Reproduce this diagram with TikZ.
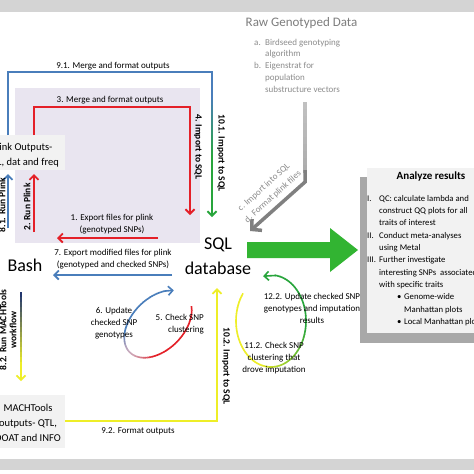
\documentclass[tikz,border=0pt]{standalone}
\usepackage{fontspec}
\setmainfont{Carlito}
\usetikzlibrary{arrows.meta}
\definecolor{redc}{RGB}{228,32,40}
\definecolor{blu}{RGB}{74,126,187}
\definecolor{navy}{RGB}{35,55,110}
\definecolor{grn}{RGB}{40,165,60}
\definecolor{yel}{RGB}{238,238,40}
\definecolor{bigg}{RGB}{50,180,50}
\definecolor{bandc}{RGB}{212,212,212}
\definecolor{lav}{RGB}{233,229,240}
\definecolor{boxg}{RGB}{242,242,242}
\definecolor{shad}{RGB}{168,168,168}
\definecolor{txtg}{RGB}{125,125,125}
\definecolor{txtg2}{RGB}{140,140,140}
\begin{document}
\begin{tikzpicture}[x=1pt,y=-1pt,
  lw/.style={line width=1.8pt},
  tip/.style={-{Straight Barb[length=4.5pt,width=9pt]}},
  lbl/.style={font=\fontsize{9}{12}\selectfont, align=center, inner sep=0pt},
  vlbl/.style={font=\bfseries\fontsize{9.5}{10}\selectfont, align=center, inner sep=0pt},
  big/.style={font=\fontsize{18}{25}\selectfont, align=center, inner sep=0pt},
  boxtxt/.style={font=\fontsize{10.5}{15.5}\selectfont, align=center, inner sep=0pt},
  item/.style={font=\fontsize{8.7}{10}\selectfont, anchor=base west, inner sep=0pt},
  rawitem/.style={font=\fontsize{9}{10}\selectfont, anchor=base west, inner sep=0pt, text=txtg2},
]
\useasboundingbox (0,0) rectangle (474,474);
\fill[white] (0,0) rectangle (474,474);
\fill[bandc] (0,459) rectangle (474,470);
\fill[lav] (15,88) rectangle (200,243);

% boxes and main nodes
\node[fill=boxg, minimum width=70pt, minimum height=35pt, inner sep=0pt] (plink) at (30,152.5) {};
\node[boxtxt] (plinktxt) at (22,155) {Plink Outputs-\\QTL, dat and freq};
\node[fill=boxg, minimum width=70pt, minimum height=53pt, inner sep=0pt] (mach) at (30,421.5) {};
\node[boxtxt, font=\fontsize{10.5}{15}\selectfont] (machtxt) at (28,423) {MACHTools\\outputs- QTL,\\DOAT and INFO};
\node[big] (bash) at (25,265) {Bash};
\node[big] (sql) at (218,256) {SQL\\database};

% Raw genotyped data
\node[font=\fontsize{13}{15}\selectfont, text=txtg, inner sep=0pt] (raw) at (301.5,23) {Raw Genotyped Data};
\node[rawitem] (ra) at (254,45) {a.};
\node[rawitem] (ra1) at (265,45) {Birdseed genotyping};
\node[rawitem] (ra2) at (265,56) {algorithm};
\node[rawitem] (rb) at (254,68) {b.};
\node[rawitem] (rb1) at (265,68) {Eigenstrat for};
\node[rawitem] (rb2) at (265,80) {population};
\node[rawitem] (rb3) at (265,92) {substructure vectors};

% gray arrow
\coordinate (g0) at (305,102);
\coordinate (g1) at (305,182);
\coordinate (g2) at (250,231);
\foreach \i in {0,...,9}{
  \pgfmathsetmacro\ya{102+7*\i}
  \pgfmathsetmacro\yb{\ya+7.5}
  \pgfmathsetmacro\pc{100-4*\i}
  \draw[line width=3.5pt, color=black!55!white!\pc!black!45!white] (305,\ya) -- (305,\yb);
}
\draw[line width=3.5pt, color=black!50!white, -{Straight Barb[length=7pt,width=15pt]}] (305,170) -- (g1) -- (g2);
\node[font=\fontsize{9}{10}\selectfont, text=txtg2, rotate=42, inner sep=0pt] (lc) at (264,187.5) {c. Import into SQL};
\node[font=\fontsize{9}{10}\selectfont, text=txtg2, rotate=42, inner sep=0pt] (ld) at (273,197) {d. Format plink files};

% big green arrow
\fill[bigg] (247,242) -- (330,242) -- (330,228) -- (358,250) -- (330,272) -- (330,258) -- (247,258) -- cycle;

% analyze results box
\fill[shad] (360,177) rectangle (480,343);
\node[fill=boxg, minimum width=113pt, minimum height=165pt, inner sep=0pt] (analyze) at (423.5,250.5) {};
\node[font=\bfseries\fontsize{11}{13}\selectfont, inner sep=0pt] (antitle) at (431,177) {Analyze results};
\node[item] (i1) at (367,201) {I.};
\node[item] (i1a) at (379,201) {QC: calculate lambda and};
\node[item] (i1b) at (379,213.5) {construct QQ plots for all};
\node[item] (i1c) at (379,225.5) {traits of interest};
\node[item] (i2) at (367,238) {II.};
\node[item] (i2a) at (379,238) {Conduct meta-analyses};
\node[item] (i2b) at (379,250) {using Metal};
\node[item] (i3) at (367,262.5) {III.};
\node[item] (i3a) at (379,262.5) {Further investigate};
\node[item] (i3b) at (379,275) {interesting SNPs\ \ associated};
\node[item] (i3c) at (379,287) {with specific traits};
\node[item] (b1) at (397,299.5) {•};
\node[item] (b1a) at (404,299.5) {Genome-wide};
\node[item] (b1b) at (404,312) {Manhattan plots};
\node[item] (b2) at (397,324.5) {•};
\node[item] (b2a) at (404,324.5) {Local Manhattan plots};

% 9.1 / 10.1 (blue to green)
\coordinate (p91) at (8,135);
\coordinate (q91) at (8,72);
\coordinate (r91) at (212,72);
\coordinate (s91) at (212,95);
\coordinate (t91) at (212,160);
\coordinate (u91) at (212,217);
\draw[blu, lw] (p91) -- (q91) -- (r91) -- (s91);
\foreach \i in {0,...,12}{
  \pgfmathsetmacro\ya{95+5*\i}
  \pgfmathsetmacro\yb{\ya+5.5}
  \pgfmathsetmacro\pc{100*\i/12}
  \draw[lw, color=grn!\pc!blu] (212,\ya) -- (212,\yb);
}
\draw[grn, lw, tip] (t91) -- (u91);

% 3 / 4 (red)
\coordinate (p3) at (34,135);
\coordinate (q3) at (34,107);
\coordinate (r3) at (190,107);
\coordinate (s3) at (190,215);
\draw[redc, lw, tip] (p3) -- (q3) -- (r3) -- (s3);

% 1, 7
\coordinate (e1a) at (158,238);
\coordinate (e1b) at (57,238);
\draw[redc, lw, tip] (e1a) -- (e1b);
\coordinate (e7a) at (172,275);
\coordinate (e7b) at (53,275);
\draw[blu, lw, tip] (e7a) -- (e7b);

% 2, 8.1
\coordinate (r2a) at (34,232);
\coordinate (r2b) at (34,174);
\draw[redc, lw, tip] (r2a) -- (r2b);
\coordinate (r81a) at (8,228);
\coordinate (r81b) at (8,174);
\draw[blu, lw, tip] (r81a) -- (r81b);

% 8.2 navy to yellow
\foreach \i in {0,...,14}{
  \pgfmathsetmacro\ya{292+5*\i}
  \pgfmathsetmacro\yb{\ya+5.5}
  \pgfmathsetmacro\pc{100*\i/14}
  \draw[line width=1.6pt, color=yel!\pc!navy] (21,\ya) -- (21,\yb);
}
\coordinate (m82a) at (21,365);
\coordinate (m82b) at (21,381);
\draw[yel, line width=1.6pt, tip] (m82a) -- (m82b);

% 9.2 / 10.2 yellow
\coordinate (y1) at (65,421);
\coordinate (y2) at (217,421);
\coordinate (y3) at (217,288);
\draw[yel, lw, tip] (y1) -- (y2) -- (y3);

% cycle 5 / 6 (red to blue)
\begin{scope}[shift={(158,324)}, rotate=45]
  \foreach \t in {25,29,...,313}{
    \pgfmathsetmacro\tb{\t+4.5}
    \pgfmathsetmacro\pc{min(max((\t-130)/0.9,0),100)}
    \pgfmathsetmacro\wc{100-50*sin(1.8*\pc)}
    \draw[line width=1.6pt, color=blu!\pc!redc!\wc!white] (\t:40 and 26) -- (\tb:40 and 26);
  }
  \draw[line width=1.6pt, blu, tip] (315:40 and 26) -- (331:40 and 26);
\end{scope}

% cycle 11.2 / 12.2 (yellow to green)
\begin{scope}[shift={(271,321)}]
  \foreach \t in {217,213,...,-79}{
    \pgfmathsetmacro\tb{\t-4.5}
    \pgfmathsetmacro\pc{min(max(110-\t,0),100)}
    \draw[line width=1.6pt, color=grn!\pc!yel] (\t:35 and 46) -- (\tb:35 and 46);
  }
  \draw[grn, line width=1.6pt, tip] (-82:35 and 46) -- (-103:35 and 46);
\end{scope}

% labels
\node[lbl] (l91) at (113,66) {9.1. Merge and format outputs};
\node[lbl] (l3) at (110,100) {3. Merge and format outputs};
\node[lbl] (l1) at (112,224) {1. Export files for plink\\(genotyped SNPs)};
\node[lbl] (l7) at (113,259.5) {7. Export modified files for plink\\(genotyped and checked SNPs)};
\node[lbl] (l92) at (138,431) {9.2. Format outputs};
\node[lbl] (l6) at (114,323.5) {6. Update\\checked SNP\\genotypes};
\node[lbl, align=right, anchor=east] (l5) at (204,324.5) {5. Check SNP\\clustering};
\node[lbl] (l122) at (312,308) {12.2. Update checked SNP\\genotypes and imputation\\results};
\node[lbl] (l112) at (274,358) {11.2. Check SNP\\clustering that\\drove imputation};

\node[vlbl, rotate=-90] (l4) at (198,147) {4. Import to SQL};
\node[vlbl, rotate=-90] (l101) at (221,153) {10.1. Import to SQL};
\node[vlbl, rotate=-90] (l102) at (226,366) {10.2. Import to SQL};
\node[vlbl, rotate=90] (l2) at (27,207) {2. Run Plink};
\node[vlbl, rotate=90] (l81) at (2,205) {8.1. Run Plink};
\node[vlbl, rotate=90] (l82) at (8,330) {8.2. Run MACHTools\\workflow};

% top band drawn last
\fill[bandc] (0,0) rectangle (474,12);
\end{tikzpicture}
\end{document}
